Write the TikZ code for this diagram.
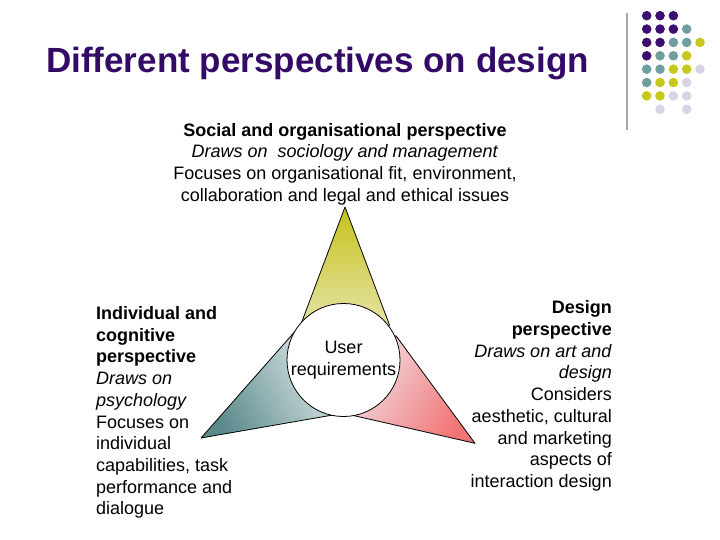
\documentclass[tikz,border=0pt]{standalone}
\usepackage{fontspec}
\setmainfont{Liberation Sans}
\usetikzlibrary{calc}

\definecolor{titlePurple}{HTML}{330A66}
\definecolor{dotPurple}{HTML}{3C0E6E}
\definecolor{dotTeal}{HTML}{6E9EA0}
\definecolor{dotYellow}{HTML}{C8C81C}
\definecolor{dotLilac}{HTML}{D8D4E8}
\definecolor{ruleGray}{HTML}{A8A8A8}
\definecolor{yellowTip}{HTML}{C6C21A}
\definecolor{yellowPale}{HTML}{EEEDD0}
\definecolor{tealTip}{HTML}{5A8A8C}
\definecolor{tealPale}{HTML}{E8EEEE}
\definecolor{redTip}{HTML}{F27476}
\definecolor{redPale}{HTML}{F0E4E8}

\begin{document}
\begin{tikzpicture}[
    x=1pt, y=-1pt,
    spike/.style={draw=black, line width=0.8pt, line join=round},
    body/.style={font=\fontsize{18}{21.7}\selectfont, inner sep=0pt}
]
    \useasboundingbox (0,0) rectangle (720,540);

    % Title
    \node[font=\fontsize{35}{40}\selectfont\bfseries, text=titlePurple, anchor=west, inner sep=0pt] (title) at (46,64) {Different perspectives on design};

    % Decoration in the top right corner
    \draw[ruleGray, line width=1.6pt] (627,13) -- (627,130);
    \foreach \col/\row/\clr in {0/0/dotPurple, 1/0/dotPurple, 2/0/dotPurple,
        0/1/dotPurple, 1/1/dotPurple, 2/1/dotPurple, 3/1/dotTeal,
        0/2/dotPurple, 1/2/dotPurple, 2/2/dotTeal, 3/2/dotTeal, 4/2/dotYellow,
        0/3/dotPurple, 1/3/dotTeal, 2/3/dotTeal, 3/3/dotYellow,
        0/4/dotTeal, 1/4/dotTeal, 2/4/dotYellow, 3/4/dotYellow, 4/4/dotLilac,
        0/5/dotTeal, 1/5/dotYellow, 2/5/dotYellow, 3/5/dotLilac,
        0/6/dotYellow, 1/6/dotYellow, 2/6/dotLilac, 3/6/dotLilac,
        1/7/dotLilac, 3/7/dotLilac}
        \fill[\clr] (646.7+13.33*\col, 15.7+13.37*\row) circle (4.8);

    % Corners of the three spikes
    \coordinate (centre) at (343.5,360);
    \coordinate (topTip) at (345,207);
    \coordinate (leftTip) at (201,438);
    \coordinate (rightTip) at (475,443.3);

    % Spikes with a gradient towards the circle
    \shadedraw[spike, top color=yellowTip, bottom color=yellowPale]
        (topTip) -- (301,324) -- (centre) -- (389.5,325) -- cycle;
    \shadedraw[spike, top color=tealTip, bottom color=tealPale, shading angle=119]
        (leftTip) -- (303,322.3) -- (centre) -- (338,414.1) -- cycle;
    \shadedraw[spike, top color=redTip, bottom color=redPale, shading angle=-122]
        (rightTip) -- (396,335.8) -- (centre) -- (342,412.9) -- cycle;

    % Circle in the middle
    \node[draw, circle, fill=white, line width=0.8pt, minimum size=113pt, inner sep=0pt] (user) at (centre) {};
    \node[body, align=center] (userText) at (user) {User\\requirements};

    % Perspectives
    \node[body, align=center] (social) at (345,164) {\textbf{Social and organisational perspective}\\
        \textit{Draws on\ \ sociology and management}\\
        Focuses on organisational fit, environment,\\
        collaboration and legal and ethical issues};
    \node[body, align=left, anchor=west] (individual) at (96,412.5) {\textbf{Individual and}\\
        \textbf{cognitive}\\ \textbf{perspective}\\ \textit{Draws on}\\ \textit{psychology}\\
        Focuses on\\ individual\\ capabilities, task\\ performance and\\ dialogue};
    \node[body, align=right, anchor=east] (design) at (612,396) {\textbf{Design}\\
        \textbf{perspective}\\ \textit{Draws on art and}\\ \textit{design}\\
        Considers\\ aesthetic, cultural\\ and marketing\\ aspects of\\ interaction design};
\end{tikzpicture}
\end{document}
